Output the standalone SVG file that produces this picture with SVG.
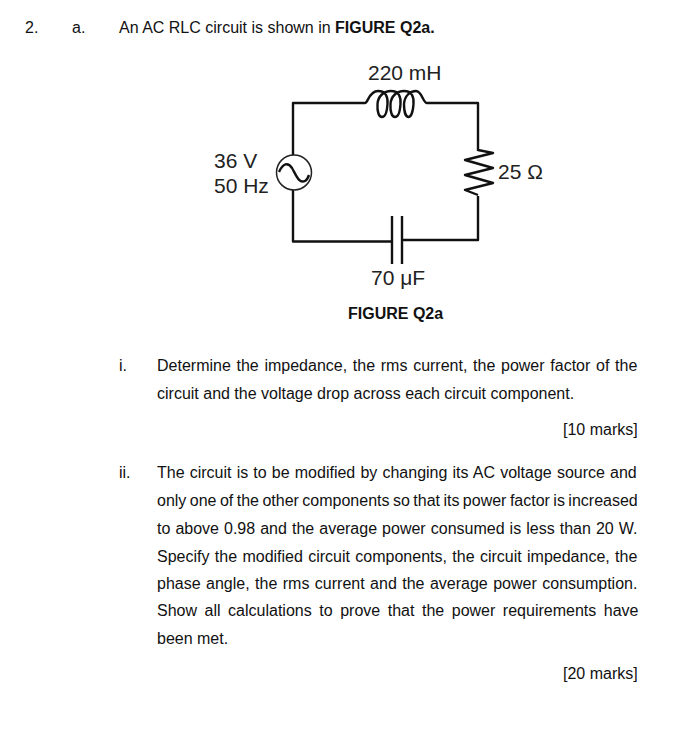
<svg xmlns="http://www.w3.org/2000/svg" width="675" height="732" viewBox="0 0 675 732">
<style>
text{font-family:"Liberation Sans",Arial,sans-serif;font-size:16px;fill:#111}
.l{font-size:21px;fill:#222}
.b{font-weight:bold}
.w{fill:none;stroke:#111;stroke-width:2.4;stroke-linejoin:round}
.c{fill:none;stroke:#222;stroke-width:1.500}
</style>
<rect width="675" height="732" fill="#fff"/>
<g id="connectors">
<path class="w" d="M293 155V103H365M427 103H478V151M478 196V240H403M391 241.500H293V190"/>
</g>
<g id="source"><circle class="c" cx="294" cy="172.500" r="17.500"/><path class="w" d="M279 172C283 163 288 162 292 168C296 175 299 184 305 181C307 180 308 178 309 175"/></g>
<g id="inductor"><path class="w" d="M365 103C368 103 369 91 378 91C386 91 388 97 387.500 104C387 112 385 117 382 117C379 117 377 112 377.500 104C378 96 384 91 391 91C399 91 401 97 400.500 104C400 112 398 117 395 117C392 117 390 112 390.500 104C391 96 397 91 404 91C412 91 414 97 413.500 104C413 112 411 117 408.500 117C406 117 404 112 404 104C404.500 96 410 91 416 91C422 91 423 103 427 103"/></g>
<g id="resistor"><path class="w" d="M478 150L493 153L465 160L493 168L465 175L493 183L465 190L478 195"/></g>
<g id="capacitor"><path class="w" d="M392 216V264M402 216V264"/></g>
<g id="labels">
<text x="25" y="33">2.</text><text x="72" y="33">a.</text>
<text x="119" y="33">An AC RLC circuit is shown in <tspan class="b">FIGURE Q2a.</tspan></text>
<text class="l" x="368" y="80">220 mH</text>
<text class="l" x="214" y="168">36 V</text>
<text class="l" x="214" y="193">50 Hz</text>
<text class="l" x="498" y="179">25 Ω</text>
<text class="l" x="371" y="285">70 μF</text>
<text class="b" x="348" y="319">FIGURE Q2a</text>
<text x="119" y="371">i.</text>
<text x="157" y="371" word-spacing="1.250">Determine the impedance, the rms current, the power factor of the</text>
<text x="157" y="399">circuit and the voltage drop across each circuit component.</text>
<text x="563" y="435">[10 marks]</text>
<text x="119" y="478">ii.</text>
<text x="157" y="478" word-spacing="0.700">The circuit is to be modified by changing its AC voltage source and</text>
<text x="157" y="506" word-spacing="-1">only one of the other components so that its power factor is increased</text>
<text x="157" y="534" word-spacing="0.600">to above 0.98 and the average power consumed is less than 20 W.</text>
<text x="157" y="562" word-spacing="0.900">Specify the modified circuit components, the circuit impedance, the</text>
<text x="157" y="589" word-spacing="1">phase angle, the rms current and the average power consumption.</text>
<text x="157" y="616" word-spacing="3.100">Show all calculations to prove that the power requirements have</text>
<text x="157" y="644">been met.</text>
<text x="563" y="679">[20 marks]</text>
</g>
</svg>
